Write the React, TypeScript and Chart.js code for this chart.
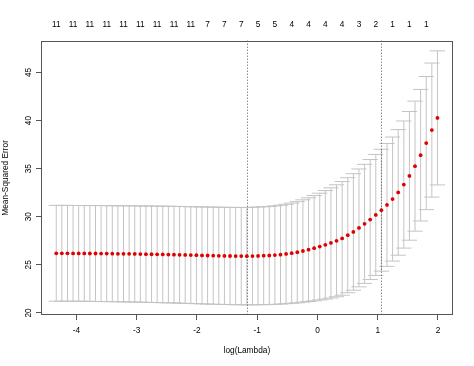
import React, { useEffect, useRef } from "react";
import { Chart, registerables } from "chart.js";

Chart.register(...registerables);

// log(lambda) sequence (x)
const logLambda = [
  -4.333, -4.240, -4.147, -4.054, -3.961, -3.868, -3.775, -3.682, -3.589, -3.496,
  -3.403, -3.310, -3.217, -3.124, -3.031, -2.938, -2.845, -2.752, -2.659, -2.566,
  -2.473, -2.380, -2.287, -2.194, -2.101, -2.008, -1.915, -1.822, -1.729, -1.636,
  -1.543, -1.450, -1.357, -1.264, -1.171, -1.078, -0.985, -0.892, -0.799, -0.706,
  -0.613, -0.520, -0.427, -0.334, -0.241, -0.148, -0.055, 0.038, 0.131, 0.224,
  0.317, 0.410, 0.503, 0.596, 0.689, 0.782, 0.875, 0.968, 1.061, 1.154,
  1.247, 1.340, 1.433, 1.526, 1.619, 1.712, 1.805, 1.898, 1.991,
];

// mean cross-validated error
const cvm = [
  26.20, 26.20, 26.20, 26.19, 26.19, 26.19, 26.18, 26.18, 26.17, 26.17,
  26.16, 26.15, 26.15, 26.14, 26.13, 26.12, 26.11, 26.10, 26.09, 26.08,
  26.07, 26.06, 26.04, 26.03, 26.01, 26.00, 25.98, 25.97, 25.95, 25.94,
  25.93, 25.92, 25.91, 25.91, 25.90, 25.91, 25.93, 25.95, 25.97, 26.01,
  26.06, 26.13, 26.21, 26.31, 26.44, 26.58, 26.73, 26.90, 27.08, 27.28,
  27.50, 27.75, 28.08, 28.42, 28.84, 29.26, 29.71, 30.19, 30.68, 31.23,
  31.84, 32.53, 33.35, 34.25, 35.26, 36.40, 37.66, 39.01, 40.28,
];

// standard error of cv error
const cvsd = [
  4.98, 4.98, 4.98, 4.98, 4.98, 4.98, 4.98, 4.99, 4.99, 4.99,
  4.99, 4.99, 5.00, 5.00, 5.00, 5.00, 5.01, 5.01, 5.01, 5.02,
  5.02, 5.02, 5.03, 5.03, 5.03, 5.04, 5.04, 5.04, 5.05, 5.05,
  5.05, 5.05, 5.06, 5.06, 5.06, 5.07, 5.08, 5.09, 5.10, 5.12,
  5.14, 5.17, 5.21, 5.26, 5.32, 5.39, 5.47, 5.55, 5.64, 5.73,
  5.82, 5.91, 5.98, 6.06, 6.13, 6.19, 6.24, 6.29, 6.34, 6.39,
  6.45, 6.53, 6.61, 6.69, 6.76, 6.84, 6.92, 6.97, 6.97,
];

// number of non-zero coefficients
const nzero = [
  11, 11, 11, 11, 11, 11, 11, 11, 11, 11,
  11, 11, 11, 11, 11, 11, 11, 11, 11, 11,
  11, 11, 11, 11, 11, 10, 8, 7, 7, 7,
  7, 7, 7, 7, 7, 6, 5, 5, 5, 5,
  5, 5, 4, 4, 4, 4, 4, 4, 4, 4,
  4, 4, 4, 3, 3, 3, 3, 2, 2, 2,
  1, 1, 1, 1, 1, 1, 1, 1, 1,
];

const lambdaMin = -1.171;
const lambda1se = 1.061;

const xTicks = [-4, -3, -2, -1, 0, 1, 2];
const yTicks = [20, 25, 30, 35, 40, 45];

const FONT = "'Liberation Sans', Arial, Helvetica, sans-serif";
const FS = 8.3;

export default function App() {
  const ref = useRef<HTMLCanvasElement>(null);

  useEffect(() => {
    const canvas = ref.current;
    if (!canvas) return;

    const xMin = Math.min(...logLambda);
    const xMax = Math.max(...logLambda);
    const xPad = (xMax - xMin) * 0.04;
    const ups = cvm.map((m, i) => m + cvsd[i]);
    const los = cvm.map((m, i) => m - cvsd[i]);
    const yMin = Math.min(...los);
    const yMax = Math.max(...ups);
    const yPad = (yMax - yMin) * 0.04;
    const barW = (xMax - xMin) * 0.02;
    const labelIdx = logLambda.map((_, i) => i).filter((i) => i % 3 === 0);

    const errorBars = {
      id: "errorBars",
      beforeDatasetsDraw(chart: any) {
        const { ctx, scales } = chart;
        const x = scales.x;
        const y = scales.y;
        ctx.save();
        ctx.strokeStyle = "#c4c4c4";
        ctx.lineWidth = 1;
        ctx.beginPath();
        logLambda.forEach((lx, i) => {
          const px = x.getPixelForValue(lx);
          const pu = y.getPixelForValue(ups[i]);
          const pl = y.getPixelForValue(los[i]);
          const pw = x.getPixelForValue(lx + barW) - px;
          ctx.moveTo(px, pu);
          ctx.lineTo(px, pl);
          ctx.moveTo(px - pw, pu);
          ctx.lineTo(px + pw, pu);
          ctx.moveTo(px - pw, pl);
          ctx.lineTo(px + pw, pl);
        });
        ctx.stroke();
        ctx.restore();
      },
    };

    const vLines = {
      id: "vLines",
      afterDatasetsDraw(chart: any) {
        const { ctx, chartArea, scales } = chart;
        const x = scales.x;
        ctx.save();
        ctx.strokeStyle = "#555";
        ctx.lineWidth = 1;
        ctx.setLineDash([1, 2]);
        [lambdaMin, lambda1se].forEach((v) => {
          const px = Math.round(x.getPixelForValue(v)) + 0.5;
          ctx.beginPath();
          ctx.moveTo(px, chartArea.top);
          ctx.lineTo(px, chartArea.bottom);
          ctx.stroke();
        });
        ctx.restore();
      },
    };

    const frame = {
      id: "frame",
      afterDraw(chart: any) {
        const { ctx, chartArea } = chart;
        ctx.save();
        ctx.strokeStyle = "#555";
        ctx.lineWidth = 1;
        ctx.strokeRect(
          Math.round(chartArea.left) + 0.5,
          Math.round(chartArea.top) + 0.5,
          Math.round(chartArea.right - chartArea.left) - 1,
          Math.round(chartArea.bottom - chartArea.top) - 1
        );
        ctx.restore();
      },
    };

    const tickFont = { family: FONT, size: FS };

    const chart = new Chart(canvas, {
      type: "scatter",
      data: {
        datasets: [
          {
            data: logLambda.map((lx, i) => ({ x: lx, y: cvm[i] })),
            pointRadius: 1.9,
            pointBorderWidth: 0,
            pointBackgroundColor: "#e00000",
            pointBorderColor: "#e00000",
            showLine: false,
          },
        ],
      },
      options: {
        animation: false,
        responsive: false,
        devicePixelRatio: 1,
        events: [],
        layout: { padding: { top: 0, right: 21.3, bottom: 0, left: 0 } },
        plugins: { legend: { display: false }, tooltip: { enabled: false } },
        scales: {
          x: {
            type: "linear",
            position: "bottom",
            min: xMin - xPad,
            max: xMax + xPad,
            afterBuildTicks: (s: any) => {
              s.ticks = xTicks.map((v) => ({ value: v }));
            },
            afterFit: (s: any) => {
              s.height = 51;
            },
            grid: { drawOnChartArea: false, drawTicks: true, tickLength: 5, color: "#555", lineWidth: 1 },
            border: { display: false },
            ticks: {
              autoSkip: false,
              maxRotation: 0,
              padding: 5.5,
              color: "#000",
              font: tickFont,
              callback: (v: any) => String(v),
            },
            title: {
              display: true,
              text: "log(Lambda)",
              color: "#000",
              font: tickFont,
              padding: { top: 0, bottom: 10 },
            },
          },
          xTop: {
            type: "linear",
            position: "top",
            min: xMin - xPad,
            max: xMax + xPad,
            afterBuildTicks: (s: any) => {
              s.ticks = labelIdx.map((i) => ({ value: logLambda[i] }));
            },
            afterFit: (s: any) => {
              s.height = 40.7;
            },
            grid: { display: false, drawTicks: false },
            border: { display: false },
            ticks: {
              autoSkip: false,
              maxRotation: 0,
              padding: 11,
              color: "#000",
              font: tickFont,
              callback: (_v: any, idx: number) => String(nzero[labelIdx[idx]]),
            },
          },
          y: {
            type: "linear",
            position: "left",
            min: yMin - yPad,
            max: yMax + yPad,
            afterBuildTicks: (s: any) => {
              s.ticks = yTicks.map((v) => ({ value: v }));
            },
            afterFit: (s: any) => {
              s.width = 41;
            },
            grid: { drawOnChartArea: false, drawTicks: true, tickLength: 5, color: "#555", lineWidth: 1 },
            border: { display: false },
            ticks: {
              autoSkip: false,
              minRotation: 90,
              maxRotation: 90,
              crossAlign: "center",
              padding: 3,
              color: "#000",
              font: tickFont,
              callback: (v: any) => String(v),
            },
            title: {
              display: true,
              text: "Mean-Squared Error",
              color: "#000",
              font: tickFont,
              padding: { top: 1, bottom: 0 },
            },
          },
        },
      } as any,
      plugins: [errorBars, vLines, frame],
    });

    return () => chart.destroy();
  }, []);

  return (
    <div style={{ position: "absolute", left: 0, top: 0, width: 474, height: 366, background: "#fff" }}>
      <canvas ref={ref} width={474} height={366} style={{ display: "block", width: 474, height: 366 }} />
    </div>
  );
}
